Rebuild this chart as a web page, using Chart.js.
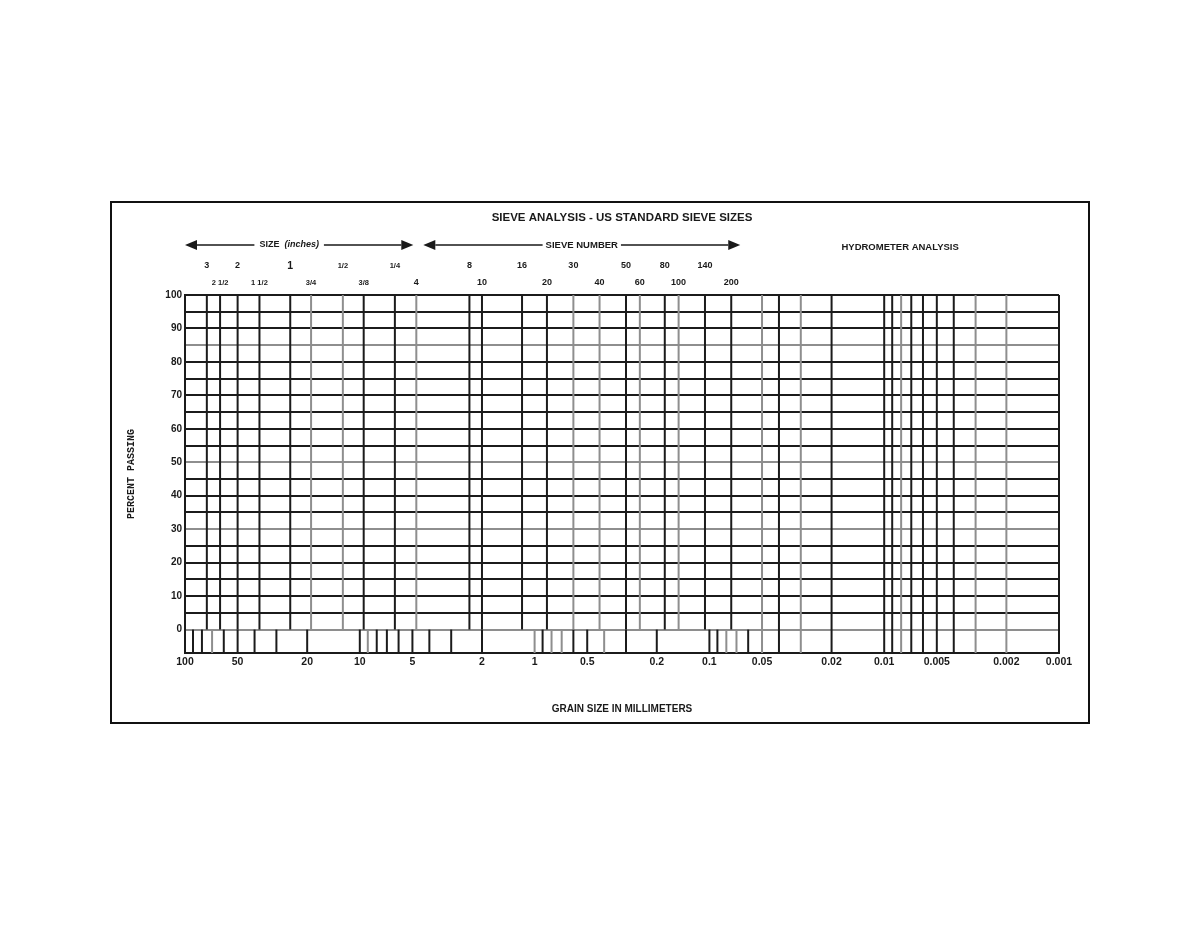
<!DOCTYPE html>
<html>
<head>
<meta charset="utf-8">
<title>Sieve analysis - US standard sieve sizes</title>
<script src="https://cdn.jsdelivr.net/npm/chart.js@4.4.1/dist/chart.umd.min.js"></script>
<style>
  html, body { margin: 0; padding: 0; background: #fff; }
  canvas { display: block; }
</style>
</head>
<body>
<canvas id="sieveChart" width="1200" height="927"></canvas>
<script>
// grain size labels along the bottom (mm)
const grainLabels = [100, 50, 20, 10, 5, 2, 1, 0.5, 0.2, 0.1, 0.05, 0.02, 0.01, 0.005, 0.002, 0.001];

// percent passing lines (labels every 10)
const percentTicks = [0, 5, 10, 15, 20, 25, 30, 35, 40, 45, 50, 55, 60, 65, 70, 75, 80, 85, 90, 95, 100];

// US standard sieve openings in mm, split in the two label rows of the sheet
const sieveRow1 = [75, 50, 25, 12.5, 6.3, 2.36, 1.18, 0.6, 0.3, 0.18, 0.106];
const sieveRow1Labels = ['3', '2', '1', '1/2', '1/4', '8', '16', '30', '50', '80', '140'];
const sieveRow2 = [63, 37.5, 19, 9.5, 4.75, 2.0, 0.85, 0.425, 0.25, 0.15, 0.075];
const sieveRow2Labels = ['2 1/2', '1 1/2', '3/4', '3/8', '4', '10', '20', '40', '60', '100', '200'];

// hydrometer range lines, full height (mm)
const hydrometerLines = [0.05, 0.04, 0.03, 0.02, 0.01, 0.009, 0.008, 0.007, 0.006, 0.005, 0.004, 0.003, 0.002, 0.001];

// short log ticks in the strip under 0 % (mm)
const stripTicks = [90, 80, 70, 60, 50, 40, 30, 20, 10, 9, 8, 7, 6, 5, 4, 3, 2,
                    1, 0.9, 0.8, 0.7, 0.6, 0.5, 0.4, 0.3, 0.2, 0.1, 0.09, 0.08, 0.07, 0.06];

// ---- styles ----
const INK = '#1a1a1a';
const DARK = '#1b1b1b';
const GREY = '#8e8e8e';
const SANS = "'Liberation Sans', Arial, sans-serif";
const Y_MIN = -7;

// lines printed lighter on the sheet
const greyUpper = [19, 12.5, 4.75, 0.6, 0.425, 0.25, 0.15];
const greyFull = [0.05, 0.03, 0.008, 0.003, 0.002];
const greyStrip = [70, 9, 1, 0.8, 0.7, 0.4, 0.08, 0.07];
const greyPercent = [85, 50, 30, 0];

// vertical segments: one point at each end, null to break the line
function verticals(values, yFrom, yTo) {
    let pts = [];
    values.forEach(v => {
        pts.push({ x: v, y: yFrom }, { x: v, y: yTo }, { x: v, y: null });
    });
    return pts;
}

function lineSet(label, data, greyList) {
    return {
        label: label,
        data: data,
        borderColor: DARK,
        borderWidth: 2,
        pointRadius: 0,
        pointHoverRadius: 0,
        pointHitRadius: 0,
        fill: false,
        tension: 0,
        spanGaps: false,
        clip: false,
        segment: {
            borderColor: c => greyList.includes(c.p0.parsed.x) ? GREY : DARK
        }
    };
}

// label size on the sieve rows: fractions small, "1" a bit bigger
function rowFontSize(t) {
    if (t.indexOf('/') >= 0) return 7.5;
    if (t === '1') return 10.5;
    return 9;
}

// arrows, sieve rows, frame and headings around the grid
const sheetDecor = {
    id: 'sheetDecor',
    afterDraw(chart) {
        const ctx = chart.ctx;
        const x = chart.scales.x;
        const ay = 245;

        ctx.save();
        ctx.strokeStyle = '#111';
        ctx.lineWidth = 2;
        ctx.strokeRect(111, 202, 978, 521);

        function arrow(x1, x2, cx, gap) {
            let head = 12, half = 5;
            ctx.strokeStyle = INK;
            ctx.fillStyle = INK;
            ctx.lineWidth = 1.5;
            ctx.beginPath();
            ctx.moveTo(x1 + head, ay); ctx.lineTo(cx - gap / 2, ay);
            ctx.moveTo(cx + gap / 2, ay); ctx.lineTo(x2 - head, ay);
            ctx.stroke();
            ctx.beginPath();
            ctx.moveTo(x1, ay); ctx.lineTo(x1 + head, ay - half); ctx.lineTo(x1 + head, ay + half);
            ctx.closePath(); ctx.fill();
            ctx.beginPath();
            ctx.moveTo(x2, ay); ctx.lineTo(x2 - head, ay - half); ctx.lineTo(x2 - head, ay + half);
            ctx.closePath(); ctx.fill();
        }

        ctx.textBaseline = 'middle';
        ctx.fillStyle = INK;

        // SIZE (inches)
        let s1 = x.getPixelForValue(100), s2 = x.getPixelForValue(4.75) - 3;
        let sc = (s1 + s2) / 2 - 10;
        ctx.font = 'bold 9px ' + SANS;
        let wA = ctx.measureText('SIZE  ').width;
        ctx.font = 'italic bold 9px ' + SANS;
        let wB = ctx.measureText('(inches)').width;
        arrow(s1, s2, sc, wA + wB + 10);
        ctx.textAlign = 'left';
        ctx.font = 'bold 9px ' + SANS;
        ctx.fillText('SIZE  ', sc - (wA + wB) / 2, ay);
        ctx.font = 'italic bold 9px ' + SANS;
        ctx.fillText('(inches)', sc - (wA + wB) / 2 + wA, ay);

        // SIEVE NUMBER
        let n1 = x.getPixelForValue(4.75) + 7, n2 = x.getPixelForValue(0.075) + 9;
        let nc = (n1 + n2) / 2;
        ctx.font = 'bold 9.5px ' + SANS;
        let wN = ctx.measureText('SIEVE NUMBER').width;
        arrow(n1, n2, nc, wN + 6);
        ctx.textAlign = 'center';
        ctx.fillText('SIEVE NUMBER', nc, ay);

        // HYDROMETER ANALYSIS
        let hc = (x.getPixelForValue(0.075) + x.getPixelForValue(0.001)) / 2 + 5;
        ctx.font = 'bold 9.5px ' + SANS;
        ctx.fillText('HYDROMETER ANALYSIS', hc, ay + 2);

        // sieve labels, two staggered rows
        function row(values, labels, y) {
            values.forEach((v, i) => {
                ctx.font = 'bold ' + rowFontSize(labels[i]) + 'px ' + SANS;
                ctx.fillText(labels[i], x.getPixelForValue(v), y);
            });
        }
        row(sieveRow1, sieveRow1Labels, 266);
        row(sieveRow2, sieveRow2Labels, 283);

        ctx.restore();
    }
};

const datasets = [
    lineSet('sieve sizes', verticals(sieveRow1.concat(sieveRow2), 0, 100), greyUpper),
    lineSet('hydrometer', verticals(hydrometerLines, Y_MIN, 100), greyFull),
    lineSet('grain size ticks', verticals(stripTicks, Y_MIN, 0), greyStrip)
];

const config = {
    type: 'line',
    data: { datasets: datasets },
    options: {
        responsive: false,
        animation: false,
        events: [],
        layout: { padding: { left: 115, right: 141, top: 204.6, bottom: 204 } },
        plugins: {
            legend: { display: false },
            tooltip: { enabled: false },
            title: {
                display: true,
                text: 'SIEVE ANALYSIS - US STANDARD SIEVE SIZES',
                fullSize: false,
                color: INK,
                font: { family: SANS, size: 11.5, weight: 'bold' },
                padding: { top: 6, bottom: 70.6 }
            }
        },
        scales: {
            x: {
                type: 'logarithmic',
                position: 'bottom',
                reverse: true,
                min: 0.001,
                max: 100,
                grid: { display: false, drawTicks: false },
                border: { display: true, color: DARK, width: 2 },
                afterBuildTicks: s => { s.ticks = grainLabels.map(v => ({ value: v })); },
                afterFit: s => { s.height = 70; },
                ticks: {
                    autoSkip: false,
                    maxRotation: 0,
                    minRotation: 0,
                    padding: 3,
                    color: INK,
                    font: { family: SANS, size: 10.5, weight: 'bold' },
                    callback: v => String(v)
                },
                title: {
                    display: true,
                    text: 'GRAIN SIZE IN MILLIMETERS',
                    color: INK,
                    font: { family: SANS, size: 10, weight: 'bold' },
                    padding: { top: 0, bottom: 8 }
                }
            },
            y: {
                type: 'linear',
                min: Y_MIN,
                max: 100,
                afterBuildTicks: s => { s.ticks = percentTicks.map(v => ({ value: v })); },
                afterFit: s => { s.width = 70; },
                grid: {
                    color: c => (c.tick && greyPercent.includes(c.tick.value)) ? GREY : DARK,
                    lineWidth: 2,
                    drawTicks: false
                },
                border: { display: true, color: DARK, width: 2 },
                ticks: {
                    autoSkip: false,
                    padding: 3,
                    color: INK,
                    font: { family: SANS, size: 10, weight: 'bold' },
                    callback: v => (v % 10 === 0 ? String(v) : '')
                },
                title: {
                    display: true,
                    text: 'PERCENT PASSING',
                    color: INK,
                    font: { family: "'Liberation Mono', 'DejaVu Sans Mono', monospace", size: 10, weight: 'bold' },
                    padding: { top: 10, bottom: 0 }
                }
            }
        }
    },
    plugins: [sheetDecor]
};

let sieveChart = new Chart(document.getElementById('sieveChart'), config);
</script>
</body>
</html>
